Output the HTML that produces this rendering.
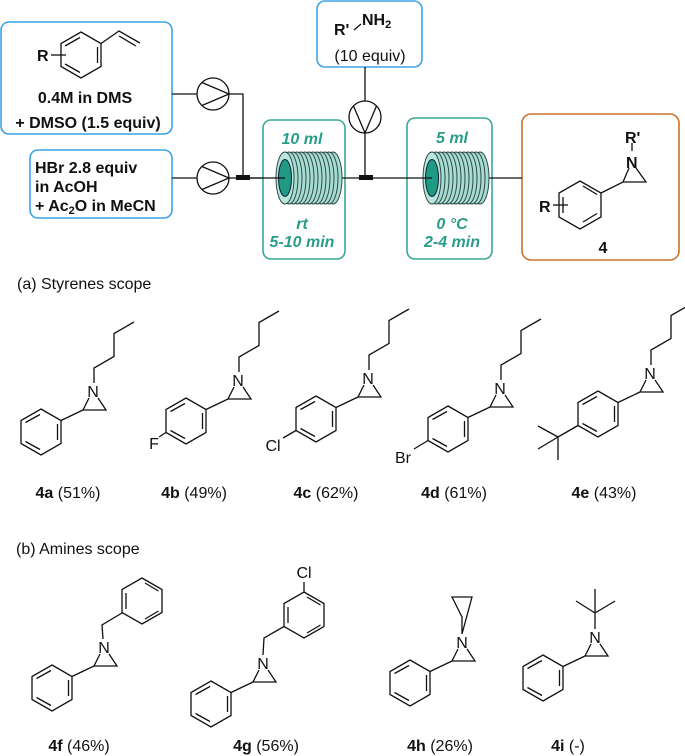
<!DOCTYPE html>
<html><head><meta charset="utf-8">
<style>
html,body{margin:0;padding:0;background:#fff;}
svg{display:block;font-family:"Liberation Sans",Arial,sans-serif;}
.b{font-weight:bold;font-size:16px;fill:#111;}
.t{font-size:16px;fill:#111;}
.g{font-weight:bold;font-style:italic;font-size:16px;fill:#2a9d8a;}
.ln{stroke:#111;stroke-width:1.3;fill:none;}
.at{font-size:16px;fill:#111;}
</style></head><body>
<svg width="685" height="756" viewBox="0 0 685 756" xmlns="http://www.w3.org/2000/svg">
<defs>
  <g id="az" class="ln">
    <path d="M-4,7 L-10,19 L13,19 L5,7"/>
    <path d="M-10,19 L-32,29.5"/>
    <path d="M-52,18 L-32,29.5 L-32,52.5 L-52,64 L-72,52.5 L-72,29.5 Z"/>
    <path d="M-67.5,31.5 L-53,23.5 M-35.5,33 L-35.5,49 M-67.5,50.5 L-53,58.5"/>
  </g>
  <g id="bu" class="ln"><path d="M1,-8 L1,-23 L21,-34.5 L21,-57.5 L41,-69"/></g>
  <g id="coil">
    <g fill="#a6dcd2" stroke="#2f4a46" stroke-width="1">
      <ellipse cx="48" cy="0" rx="9" ry="26"/>
      <ellipse cx="44" cy="0" rx="9" ry="26"/>
      <ellipse cx="40" cy="0" rx="9" ry="26"/>
      <ellipse cx="36" cy="0" rx="9" ry="26"/>
      <ellipse cx="32" cy="0" rx="9" ry="26"/>
      <ellipse cx="28" cy="0" rx="9" ry="26"/>
      <ellipse cx="24" cy="0" rx="9" ry="26"/>
      <ellipse cx="20" cy="0" rx="9" ry="26"/>
      <ellipse cx="16" cy="0" rx="9" ry="26"/>
      <ellipse cx="12" cy="0" rx="9" ry="26"/>
      <ellipse cx="8" cy="0" rx="9" ry="26"/>
      <ellipse cx="4" cy="0" rx="9" ry="26"/>
      <ellipse cx="0" cy="0" rx="9" ry="26" fill="#b8e6dd"/>
    </g>
    <ellipse cx="0" cy="0" rx="6.5" ry="18.5" fill="#1f9a84" stroke="#123" stroke-width="1"/>
    <line x1="-40" y1="0" x2="0" y2="0" stroke="#111" stroke-width="1.3"/>
  </g>
</defs>

<rect x="1" y="22" width="171" height="112" rx="8" fill="none" stroke="#3ba3e6" stroke-width="1.6"/>
<rect x="30" y="150" width="142" height="68" rx="8" fill="none" stroke="#3ba3e6" stroke-width="1.6"/>
<rect x="317" y="1" width="105" height="66" rx="8" fill="none" stroke="#3ba3e6" stroke-width="1.6"/>
<rect x="263" y="120" width="82" height="139" rx="8" fill="none" stroke="#3aa897" stroke-width="1.6"/>
<rect x="407" y="118" width="85" height="141" rx="8" fill="none" stroke="#3aa897" stroke-width="1.6"/>
<rect x="522" y="114" width="157" height="146" rx="9" fill="none" stroke="#c77330" stroke-width="1.6"/>

<g class="ln">
  <path d="M81,32 L101,43.5 L101,66.5 L81,78 L61,66.5 L61,43.5 Z"/>
  <path d="M65,46 L80,37.5 M97.5,47 L97.5,63 M65,64 L80,72.5"/>
  <path d="M101,43.5 L119,31 L140,43 M119,36 L136,46"/>
  <path d="M51,55 L66,55"/>
</g>
<text x="37" y="61" class="b">R</text>
<text x="85" y="103" class="b" text-anchor="middle">0.4M in DMS</text>
<text x="88" y="128" class="b" text-anchor="middle">+  DMSO (1.5 equiv)</text>
<text x="35" y="173" class="b">HBr 2.8 equiv</text>
<text x="35" y="192" class="b">in AcOH</text>
<text x="35" y="211" class="b">+  Ac<tspan font-size="11" dy="3">2</tspan><tspan dy="-3">O in MeCN</tspan></text>

<text x="334" y="35" class="b">R'</text>
<line x1="354" y1="30" x2="361" y2="24" class="ln"/>
<text x="362" y="25" class="b">NH<tspan font-size="11" dy="3">2</tspan></text>
<text x="370" y="61" class="t" text-anchor="middle">(10 equiv)</text>

<g class="ln">
  <path d="M172,94 L197,94 M229,94 L243,94 L243,178"/>
  <path d="M172,178 L197,178 M229,178 L263,178"/>
  <path d="M365,67 L365,101 M365,133 L365,178"/>
  <path d="M330,178 L392,178 M480,178 L522,178"/>
  <circle cx="213" cy="94" r="16"/>
  <path d="M202,82.5 L229,94 L202,105.5"/>
  <circle cx="213" cy="178" r="16"/>
  <path d="M202,166.5 L229,178 L202,189.5"/>
  <circle cx="365" cy="117" r="16"/>
  <path d="M353.5,106 L365,133 L376.5,106"/>
</g>
<rect x="236" y="175" width="14" height="5" fill="#111"/>
<rect x="359" y="175" width="14" height="5" fill="#111"/>

<use href="#coil" x="285" y="178"/>
<use href="#coil" x="432" y="178"/>

<text x="302" y="144" class="g" text-anchor="middle">10 ml</text>
<text x="302" y="229" class="g" text-anchor="middle">rt</text>
<text x="302" y="247" class="g" text-anchor="middle">5-10 min</text>
<text x="452" y="143" class="g" text-anchor="middle">5 ml</text>
<text x="452" y="229" class="g" text-anchor="middle">0 °C</text>
<text x="452" y="247" class="g" text-anchor="middle">2-4 min</text>

<g class="ln">
  <path d="M580,181 L601,193 L601,217 L580,229 L559,217 L559,193 Z"/>
  <path d="M583,186 L597,194.5 M597,213.5 L583,222 M563,197 L563,213"/>
  <path d="M601,193 L623,182 L646,182 L636,168 M623,182 L629,168"/>
  <path d="M632,143 L632,151"/>
  <path d="M553,205 L568,205"/>
</g>
<text x="625" y="143" class="b">R'</text>
<text x="626" y="168" class="b">N</text>
<text x="539" y="212" class="b">R</text>
<text x="603" y="253" class="b" text-anchor="middle">4</text>

<text x="17" y="289" class="t">(a) Styrenes scope</text>

<use href="#az" x="93" y="391"/><use href="#bu" x="93" y="391"/>
<text x="93" y="397" class="at" text-anchor="middle">N</text>

<use href="#az" x="238" y="380"/><use href="#bu" x="238" y="380"/>
<text x="238" y="386" class="at" text-anchor="middle">N</text>
<line x1="166" y1="432.5" x2="159" y2="437" class="ln"/>
<text x="154" y="449" class="at" text-anchor="middle">F</text>

<use href="#az" x="368" y="378"/><use href="#bu" x="368" y="378"/>
<text x="368" y="384" class="at" text-anchor="middle">N</text>
<line x1="296" y1="430.5" x2="283" y2="438" class="ln"/>
<text x="273" y="451" class="at" text-anchor="middle">Cl</text>

<use href="#az" x="500" y="388"/><use href="#bu" x="500" y="388"/>
<text x="500" y="394" class="at" text-anchor="middle">N</text>
<line x1="428" y1="440.5" x2="414" y2="449" class="ln"/>
<text x="403" y="463" class="at" text-anchor="middle">Br</text>

<use href="#az" x="650" y="373"/><use href="#bu" x="650" y="373"/>
<text x="650" y="379" class="at" text-anchor="middle">N</text>
<path d="M578,425.5 L558,437 M558,437 L538,426 M558,437 L538,449 M558,437 L558,460" class="ln"/>

<g class="t" text-anchor="middle">
<text x="68" y="498"><tspan font-weight="bold">4a</tspan> (51%)</text>
<text x="194" y="498"><tspan font-weight="bold">4b</tspan> (49%)</text>
<text x="326" y="498"><tspan font-weight="bold">4c</tspan> (62%)</text>
<text x="454" y="498"><tspan font-weight="bold">4d</tspan> (61%)</text>
<text x="604" y="498"><tspan font-weight="bold">4e</tspan> (43%)</text>
</g>

<text x="16" y="554" class="t">(b) Amines scope</text>

<use href="#az" x="104" y="647"/>
<text x="104" y="653" class="at" text-anchor="middle">N</text>
<g class="ln">
  <path d="M103,639 L102,625 L122,613"/>
  <path d="M142,578 L162,589.5 L162,612.5 L142,624 L122,612.5 L122,589.5 Z"/>
  <path d="M145,583 L158.5,591 M158.5,611 L145,619 M126,593 L126,609"/>
</g>

<use href="#az" x="263" y="663"/>
<text x="263" y="669" class="at" text-anchor="middle">N</text>
<g class="ln">
  <path d="M263,655 L264,638 L284,626.5"/>
  <path d="M304,592 L324,603.5 L324,626.5 L304,638 L284,626.5 L284,603.5 Z"/>
  <path d="M307,597 L320.5,605 M320.5,625 L307,633 M288,607 L288,623"/>
  <path d="M304,592 L304,582"/>
</g>
<text x="304" y="578" class="at" text-anchor="middle">Cl</text>

<use href="#az" x="462" y="642"/>
<text x="462" y="648" class="at" text-anchor="middle">N</text>
<path d="M462,634 L462,617 L452,597 L472,597 Z" class="ln"/>

<use href="#az" x="595" y="637"/>
<text x="595" y="643" class="at" text-anchor="middle">N</text>
<path d="M595,629 L595,613 M595,613 L595,589 M595,613 L576,601 M595,613 L615,601" class="ln"/>

<g class="t" text-anchor="middle">
<text x="79" y="751"><tspan font-weight="bold">4f</tspan> (46%)</text>
<text x="266" y="751"><tspan font-weight="bold">4g</tspan> (56%)</text>
<text x="440" y="751"><tspan font-weight="bold">4h</tspan> (26%)</text>
<text x="568" y="751"><tspan font-weight="bold">4i</tspan> (-)</text>
</g>
</svg>
</body></html>
